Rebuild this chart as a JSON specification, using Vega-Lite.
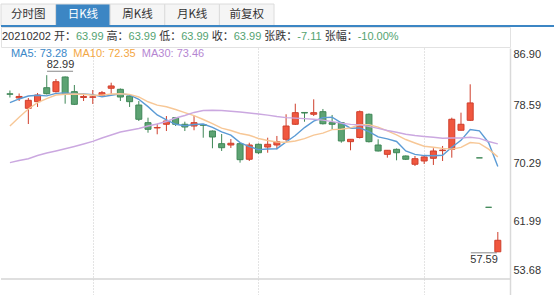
{
  "$schema": "https://vega.github.io/schema/vega-lite/v6.json",
  "padding": {"top": 3, "left": 0, "right": 0, "bottom": 0},
  "spacing": 1,
  "bounds": "flush",
  "config": {
    "view": {"stroke": null},
    "font": "Liberation Sans, Noto Sans CJK SC"
  },
  "vconcat": [
    {
      "width": 554,
      "height": 22,
      "data": {"values": [
        {"tab": "分时图", "on": false},
        {"tab": "日K线", "on": true},
        {"tab": "周K线", "on": false},
        {"tab": "月K线", "on": false},
        {"tab": "前复权", "on": false}
      ]},
      "layer": [
        {"mark": {"type": "rect", "stroke": "#dcdcdc", "strokeWidth": 1},
         "encoding": {
           "x": {"field": "tab", "type": "nominal", "sort": null, "scale": {"paddingInner": 0, "paddingOuter": 0, "range": [0, 273]}, "axis": null},
           "fill": {"condition": {"test": "datum.on", "value": "#3c86c4"}, "value": "#f5f5f5"}}},
        {"mark": {"type": "text", "fontSize": 11.5, "baseline": "middle", "font": "Noto Sans CJK SC"},
         "encoding": {
           "x": {"field": "tab", "type": "nominal", "sort": null, "scale": {"paddingInner": 0, "paddingOuter": 0, "range": [0, 273]}, "axis": null},
           "text": {"field": "tab"},
           "color": {"condition": {"test": "datum.on", "value": "#ffffff"}, "value": "#333333"}}},
        {"data": {"values": [{"edge": 0}]},
         "mark": {"type": "rule", "color": "#3c86c4", "strokeWidth": 2},
         "encoding": {"y": {"field": "edge", "type": "quantitative", "scale": {"domain": [0, 1], "nice": false}, "axis": null}}}
      ]
    },
    {
      "width": 509,
      "height": 20,
      "view": {"stroke": "#e2e2e2"},
      "data": {"values": [{"info": "20210202 开：63.99 高：63.99 低：63.99 收：63.99 张跌：-7.11 张幅：-10.00%"}]},
      "mark": {"type": "text", "align": "left", "baseline": "middle", "fontSize": 11, "dx": 1,
        "fill": {"gradient": "linear", "x1": 0, "x2": 1, "y1": 0, "y2": 0, "stops": [
          {"offset": 0, "color": "#333333"}, {"offset": 0.176, "color": "#333333"},
          {"offset": 0.176, "color": "#52a06e"}, {"offset": 0.259, "color": "#52a06e"},
          {"offset": 0.259, "color": "#333333"}, {"offset": 0.307, "color": "#333333"},
          {"offset": 0.307, "color": "#52a06e"}, {"offset": 0.391, "color": "#52a06e"},
          {"offset": 0.391, "color": "#333333"}, {"offset": 0.44, "color": "#333333"},
          {"offset": 0.44, "color": "#52a06e"}, {"offset": 0.524, "color": "#52a06e"},
          {"offset": 0.524, "color": "#333333"}, {"offset": 0.572, "color": "#333333"},
          {"offset": 0.572, "color": "#52a06e"}, {"offset": 0.656, "color": "#52a06e"},
          {"offset": 0.656, "color": "#333333"}, {"offset": 0.732, "color": "#333333"},
          {"offset": 0.732, "color": "#52a06e"}, {"offset": 0.81, "color": "#52a06e"},
          {"offset": 0.81, "color": "#333333"}, {"offset": 0.886, "color": "#333333"},
          {"offset": 0.886, "color": "#52a06e"}, {"offset": 1, "color": "#52a06e"}
        ]}},
      "encoding": {
        "x": {"datum": 0, "type": "quantitative", "scale": {"domain": [0, 1]}, "axis": null},
        "text": {"field": "info"}
      }
    },
    {
      "width": 509,
      "height": 248,
      "data": {"values": [
        {"i":1,"open":80.31,"close":80.25,"high":80.79,"low":79.78,"dir":"down","ma5":79.03,"ma10":75.68,"ma30":70.41},
        {"i":2,"open":79.71,"close":79.93,"high":80.36,"low":79.28,"dir":"up","ma5":79.57,"ma10":76.95,"ma30":70.72},
        {"i":3,"open":78.23,"close":79.38,"high":79.71,"low":75.97,"dir":"up","ma5":79.99,"ma10":78.13,"ma30":70.97},
        {"i":4,"open":79.18,"close":80.14,"high":80.43,"low":78.42,"dir":"up","ma5":80.10,"ma10":79.03,"ma30":71.44},
        {"i":5,"open":81.19,"close":80.33,"high":82.99,"low":80.21,"dir":"down","ma5":80.01,"ma10":79.62,"ma30":71.80},
        {"i":6,"open":80.62,"close":82.05,"high":82.44,"low":80.50,"dir":"up","ma5":80.37,"ma10":80.14,"ma30":72.09},
        {"i":7,"open":82.73,"close":80.33,"high":82.80,"low":78.89,"dir":"down","ma5":80.45,"ma10":80.24,"ma30":72.41},
        {"i":8,"open":80.62,"close":78.80,"high":81.58,"low":78.70,"dir":"down","ma5":80.33,"ma10":80.28,"ma30":72.74},
        {"i":9,"open":79.78,"close":79.93,"high":80.33,"low":79.28,"dir":"up","ma5":80.29,"ma10":80.24,"ma30":73.10},
        {"i":10,"open":79.81,"close":79.88,"high":80.86,"low":78.85,"dir":"up","ma5":80.20,"ma10":80.10,"ma30":73.46},
        {"i":11,"open":80.10,"close":80.47,"high":80.72,"low":80.00,"dir":"up","ma5":79.88,"ma10":80.12,"ma30":73.96},
        {"i":12,"open":81.11,"close":81.44,"high":81.91,"low":80.28,"dir":"up","ma5":80.10,"ma10":80.28,"ma30":74.39},
        {"i":13,"open":80.96,"close":79.85,"high":81.08,"low":79.28,"dir":"down","ma5":80.31,"ma10":80.32,"ma30":74.82},
        {"i":14,"open":80.00,"close":79.18,"high":80.07,"low":78.42,"dir":"down","ma5":80.16,"ma10":80.23,"ma30":75.07},
        {"i":15,"open":78.70,"close":76.65,"high":79.28,"low":76.40,"dir":"down","ma5":79.52,"ma10":79.86,"ma30":75.32},
        {"i":16,"open":76.16,"close":75.21,"high":76.88,"low":74.72,"dir":"down","ma5":78.47,"ma10":79.17,"ma30":75.68},
        {"i":17,"open":75.40,"close":75.47,"high":76.01,"low":74.49,"dir":"up","ma5":77.27,"ma10":78.69,"ma30":75.97},
        {"i":18,"open":75.93,"close":76.40,"high":77.12,"low":74.96,"dir":"up","ma5":76.58,"ma10":78.45,"ma30":76.33},
        {"i":19,"open":76.88,"close":75.93,"high":76.98,"low":75.68,"dir":"down","ma5":75.93,"ma10":78.05,"ma30":76.83},
        {"i":20,"open":75.93,"close":75.54,"high":76.30,"low":74.96,"dir":"down","ma5":75.71,"ma10":77.61,"ma30":77.19},
        {"i":21,"open":75.68,"close":76.16,"high":77.12,"low":75.07,"dir":"up","ma5":75.90,"ma10":77.18,"ma30":77.63},
        {"i":22,"open":75.87,"close":75.78,"high":75.97,"low":74.00,"dir":"down","ma5":75.96,"ma10":76.62,"ma30":77.91},
        {"i":23,"open":74.96,"close":74.10,"high":75.04,"low":72.48,"dir":"down","ma5":75.50,"ma10":76.04,"ma30":77.94},
        {"i":24,"open":73.14,"close":72.56,"high":74.53,"low":72.09,"dir":"down","ma5":74.83,"ma10":75.38,"ma30":77.91},
        {"i":25,"open":72.95,"close":73.20,"high":73.81,"low":72.52,"dir":"up","ma5":74.36,"ma10":75.04,"ma30":77.80},
        {"i":26,"open":73.14,"close":70.84,"high":73.24,"low":70.41,"dir":"down","ma5":73.30,"ma10":74.60,"ma30":77.70},
        {"i":27,"open":70.90,"close":72.95,"high":73.28,"low":70.65,"dir":"up","ma5":72.73,"ma10":74.35,"ma30":77.55},
        {"i":28,"open":73.05,"close":71.84,"high":73.17,"low":71.66,"dir":"down","ma5":72.28,"ma10":73.89,"ma30":77.41},
        {"i":29,"open":72.66,"close":73.05,"high":74.00,"low":71.84,"dir":"up","ma5":72.38,"ma10":73.60,"ma30":77.24},
        {"i":30,"open":72.95,"close":73.43,"high":74.25,"low":72.33,"dir":"up","ma5":72.42,"ma10":73.39,"ma30":77.04},
        {"i":31,"open":73.77,"close":75.68,"high":77.37,"low":73.53,"dir":"up","ma5":73.39,"ma10":73.34,"ma30":76.88},
        {"i":32,"open":75.93,"close":77.60,"high":78.89,"low":75.83,"dir":"up","ma5":74.32,"ma10":73.53,"ma30":76.81},
        {"i":33,"open":77.63,"close":77.55,"high":77.65,"low":76.30,"dir":"down","ma5":75.46,"ma10":73.87,"ma30":76.74},
        {"i":34,"open":77.37,"close":77.60,"high":79.52,"low":77.12,"dir":"up","ma5":76.37,"ma10":74.37,"ma30":76.66},
        {"i":35,"open":77.74,"close":76.01,"high":78.13,"low":75.90,"dir":"down","ma5":76.89,"ma10":74.66,"ma30":76.52},
        {"i":36,"open":76.16,"close":75.93,"high":77.27,"low":75.21,"dir":"down","ma5":76.94,"ma10":75.16,"ma30":76.31},
        {"i":37,"open":76.16,"close":73.53,"high":76.26,"low":73.28,"dir":"down","ma5":76.12,"ma10":75.22,"ma30":76.09},
        {"i":38,"open":73.43,"close":73.77,"high":73.81,"low":72.19,"dir":"up","ma5":75.37,"ma10":75.42,"ma30":75.92},
        {"i":39,"open":74.03,"close":77.74,"high":77.91,"low":73.89,"dir":"up","ma5":75.40,"ma10":75.88,"ma30":75.84},
        {"i":40,"open":77.37,"close":73.43,"high":77.48,"low":73.31,"dir":"down","ma5":74.88,"ma10":75.88,"ma30":75.63},
        {"i":41,"open":72.95,"close":72.09,"high":73.77,"low":72.02,"dir":"down","ma5":74.11,"ma10":75.53,"ma30":75.35},
        {"i":42,"open":71.61,"close":72.19,"high":72.23,"low":71.13,"dir":"up","ma5":73.84,"ma10":74.98,"ma30":75.04},
        {"i":43,"open":72.33,"close":71.84,"high":72.45,"low":70.75,"dir":"down","ma5":73.46,"ma10":74.41,"ma30":74.78},
        {"i":44,"open":71.37,"close":70.90,"high":71.44,"low":70.79,"dir":"down","ma5":72.09,"ma10":73.74,"ma30":74.50},
        {"i":45,"open":70.18,"close":70.98,"high":71.37,"low":69.93,"dir":"up","ma5":71.60,"ma10":73.24,"ma30":74.31},
        {"i":46,"open":70.65,"close":71.23,"high":71.51,"low":70.22,"dir":"up","ma5":71.43,"ma10":72.77,"ma30":74.18},
        {"i":47,"open":71.04,"close":72.09,"high":72.48,"low":70.08,"dir":"up","ma5":71.41,"ma10":72.63,"ma30":74.06},
        {"i":48,"open":72.14,"close":72.22,"high":72.81,"low":70.65,"dir":"up","ma5":71.48,"ma10":72.47,"ma30":73.93},
        {"i":49,"open":72.33,"close":76.65,"high":76.88,"low":71.13,"dir":"up","ma5":72.63,"ma10":72.36,"ma30":73.95},
        {"i":50,"open":75.07,"close":75.93,"high":77.60,"low":75.04,"dir":"up","ma5":73.62,"ma10":72.61,"ma30":73.96},
        {"i":51,"open":76.50,"close":79.00,"high":81.68,"low":76.40,"dir":"up","ma5":75.18,"ma10":73.30,"ma30":74.06},
        {"i":52,"open":71.10,"close":71.10,"high":71.10,"low":71.10,"dir":"down","ma5":74.98,"ma10":73.19,"ma30":73.90},
        {"i":53,"open":63.99,"close":63.99,"high":63.99,"low":63.99,"dir":"down","ma5":73.28,"ma10":72.35,"ma30":73.46},
        {"i":54,"open":57.59,"close":59.25,"high":60.44,"low":57.59,"dir":"up","ma5":69.85,"ma10":71.24,"ma30":73.12}
      ]},
      "layer": [
        {
          "data": {"values": [{"level": 53.68}]},
          "mark": {"type": "rule", "color": "#d4d4d4", "strokeWidth": 1.5},
          "encoding": {
            "y": {"field": "level", "type": "quantitative", "scale": {"domain": [51.235, 86.9], "nice": false, "zero": false},
              "axis": {"orient": "right", "values": [53.68, 61.99, 70.29, 78.59, 86.9], "format": ".2f", "ticks": false, "grid": false,
                "domain": true, "domainColor": "#d9d9d9", "domainWidth": 1.5, "labelPadding": 3, "labelColor": "#333333", "labelFontSize": 11,
                "labelFlush": false, "labelOverlap": false, "title": null,
                "labelBaseline": {"condition": {"test": "datum.value > 86", "value": "top"}, "value": "middle"},
                "labelOffset": {"condition": {"test": "datum.value < 54", "value": -8}, "value": 0}}}
          }
        },
        {
          "mark": {"type": "rule", "strokeWidth": 1},
          "encoding": {
            "x": {"field": "i", "type": "quantitative", "scale": {"domain": [0.574, 54.78], "nice": false, "zero": false},
              "axis": {"orient": "bottom", "values": [10, 28, 46], "grid": true, "gridDash": [1, 2], "gridColor": "#c9c9c9", "gridWidth": 1, "labels": false, "ticks": false, "domain": false, "title": null}},
            "y": {"field": "low", "type": "quantitative", "scale": {"domain": [51.235, 86.9], "nice": false, "zero": false}},
            "y2": {"field": "high"},
            "color": {"field": "dir", "type": "nominal", "scale": {"domain": ["up", "down"], "range": ["#cf3f2c", "#3f8757"]}, "legend": null}
          }
        },
        {
          "mark": {"type": "bar", "size": 6, "strokeWidth": 1},
          "encoding": {
            "x": {"field": "i", "type": "quantitative", "scale": {"domain": [0.574, 54.78], "nice": false, "zero": false}},
            "y": {"field": "open", "type": "quantitative", "scale": {"domain": [51.235, 86.9], "nice": false, "zero": false}},
            "y2": {"field": "close"},
            "fill": {"field": "dir", "type": "nominal", "scale": {"domain": ["up", "down"], "range": ["#f0573f", "#5da373"]}, "legend": null},
            "stroke": {"field": "dir", "type": "nominal", "scale": {"domain": ["up", "down"], "range": ["#cf3f2c", "#3f8757"]}, "legend": null}
          }
        },
        {
          "mark": {"type": "line", "color": "#5b9bd5", "strokeWidth": 1.4},
          "encoding": {
            "x": {"field": "i", "type": "quantitative", "scale": {"domain": [0.574, 54.78], "nice": false, "zero": false}},
            "y": {"field": "ma5", "type": "quantitative", "scale": {"domain": [51.235, 86.9], "nice": false, "zero": false}}
          }
        },
        {
          "mark": {"type": "line", "color": "#f7c796", "strokeWidth": 1.4},
          "encoding": {
            "x": {"field": "i", "type": "quantitative", "scale": {"domain": [0.574, 54.78], "nice": false, "zero": false}},
            "y": {"field": "ma10", "type": "quantitative", "scale": {"domain": [51.235, 86.9], "nice": false, "zero": false}}
          }
        },
        {
          "mark": {"type": "line", "color": "#cba8e0", "strokeWidth": 1.4},
          "encoding": {
            "x": {"field": "i", "type": "quantitative", "scale": {"domain": [0.574, 54.78], "nice": false, "zero": false}},
            "y": {"field": "ma30", "type": "quantitative", "scale": {"domain": [51.235, 86.9], "nice": false, "zero": false}}
          }
        },
        {
          "data": {"values": [{"i": 5, "p": 82.99}]},
          "mark": {"type": "tick", "orient": "horizontal", "size": 26, "thickness": 1, "color": "#555555", "xOffset": 13.3, "yOffset": -4},
          "encoding": {
            "x": {"field": "i", "type": "quantitative", "scale": {"domain": [0.574, 54.78], "nice": false, "zero": false}},
            "y": {"field": "p", "type": "quantitative", "scale": {"domain": [51.235, 86.9], "nice": false, "zero": false}}
          }
        },
        {
          "data": {"values": [{"i": 5, "p": 82.99}]},
          "mark": {"type": "text", "align": "left", "baseline": "bottom", "dy": -5, "fontSize": 11, "color": "#333333"},
          "encoding": {
            "x": {"field": "i", "type": "quantitative", "scale": {"domain": [0.574, 54.78], "nice": false, "zero": false}},
            "y": {"field": "p", "type": "quantitative", "scale": {"domain": [51.235, 86.9], "nice": false, "zero": false}},
            "text": {"field": "p", "type": "quantitative", "format": ".2f"}
          }
        },
        {
          "data": {"values": [{"i": 54, "p": 57.59}]},
          "mark": {"type": "tick", "orient": "horizontal", "size": 26, "thickness": 1, "color": "#555555", "xOffset": -14, "yOffset": 1},
          "encoding": {
            "x": {"field": "i", "type": "quantitative", "scale": {"domain": [0.574, 54.78], "nice": false, "zero": false}},
            "y": {"field": "p", "type": "quantitative", "scale": {"domain": [51.235, 86.9], "nice": false, "zero": false}}
          }
        },
        {
          "data": {"values": [{"i": 54, "p": 57.59}]},
          "mark": {"type": "text", "align": "right", "baseline": "top", "dy": 2, "fontSize": 11, "color": "#333333"},
          "encoding": {
            "x": {"field": "i", "type": "quantitative", "scale": {"domain": [0.574, 54.78], "nice": false, "zero": false}},
            "y": {"field": "p", "type": "quantitative", "scale": {"domain": [51.235, 86.9], "nice": false, "zero": false}},
            "text": {"field": "p", "type": "quantitative", "format": ".2f"}
          }
        },
        {
          "data": {"values": [{"t": "MA5: 73.28\u00a0 MA10: 72.35\u00a0 MA30: 73.46"}]},
          "mark": {"type": "text", "align": "left", "baseline": "middle", "fontSize": 11, "dx": 1,
            "fill": {"gradient": "linear", "x1": 0, "x2": 1, "y1": 0, "y2": 0, "stops": [
              {"offset": 0, "color": "#3e86c6"}, {"offset": 0.307, "color": "#3e86c6"},
              {"offset": 0.307, "color": "#f2a545"}, {"offset": 0.661, "color": "#f2a545"},
              {"offset": 0.661, "color": "#b485d0"}, {"offset": 1, "color": "#b485d0"}
            ]}},
          "encoding": {
            "x": {"datum": 1, "type": "quantitative", "scale": {"domain": [0.574, 54.78], "nice": false, "zero": false}},
            "y": {"datum": 86.04, "type": "quantitative", "scale": {"domain": [51.235, 86.9], "nice": false, "zero": false}},
            "text": {"field": "t"}
          }
        }
      ]
    }
  ]
}
